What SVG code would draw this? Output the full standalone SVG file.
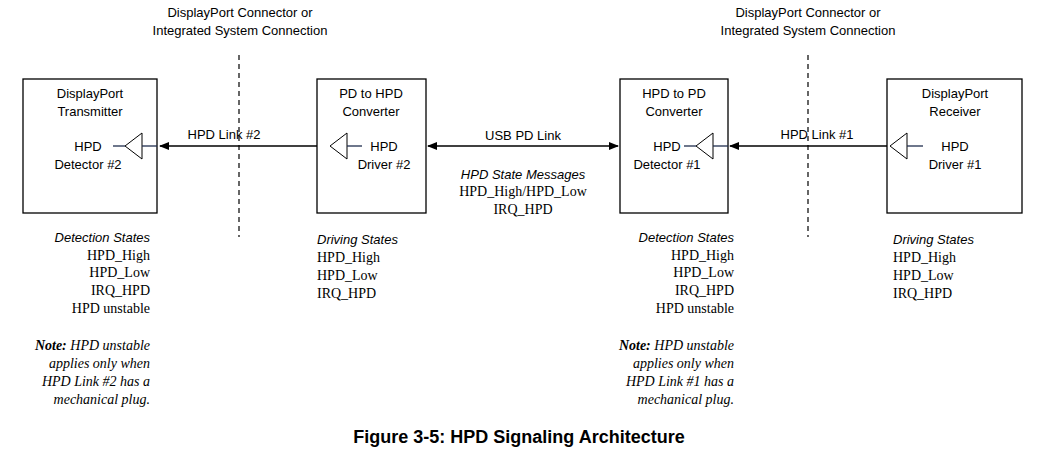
<svg xmlns="http://www.w3.org/2000/svg" width="1038" height="451" viewBox="0 0 1038 451">
<style>
.box{fill:#fff;stroke:#000;stroke-width:1.3}
.s{font-family:"Liberation Sans",Arial,sans-serif;font-size:13px;fill:#000}
.si{font-family:"Liberation Sans",Arial,sans-serif;font-size:13px;font-style:italic;fill:#000}
.t{font-family:"Liberation Serif","Times New Roman",serif;font-size:14px;fill:#000}
.ti{font-family:"Liberation Serif","Times New Roman",serif;font-size:14px;font-style:italic;fill:#000}
.tri{fill:#fff;stroke:#000;stroke-width:1}
.ln{stroke:#000;stroke-width:1.3;fill:none}
.lead{stroke:#1f2d4e;stroke-width:1.3}
.dash{stroke:#000;stroke-width:1.2;stroke-dasharray:5,4}
.m{text-anchor:middle}.e{text-anchor:end}
</style>
<defs>
<marker id="ah" markerWidth="10" markerHeight="8" refX="9" refY="4" orient="auto-start-reverse" markerUnits="userSpaceOnUse">
<path d="M0,0 L10,4 L0,8 z" fill="#000"/>
</marker>
</defs>
<g id="headers">
<text class="s m" x="240" y="17">DisplayPort Connector or</text>
<text class="s m" x="240" y="35">Integrated System Connection</text>
<text class="s m" x="808" y="17">DisplayPort Connector or</text>
<text class="s m" x="808" y="35">Integrated System Connection</text>
</g>
<g id="connectors">
<line class="dash" x1="239" y1="55" x2="239" y2="237"/>
<line class="dash" x1="808" y1="55" x2="808" y2="237"/>
<line class="ln" x1="330" y1="146" x2="160" y2="146" marker-end="url(#ah)"/>
<line class="ln" x1="428" y1="146" x2="618" y2="146" marker-start="url(#ah)" marker-end="url(#ah)"/>
<line class="ln" x1="890" y1="146" x2="730" y2="146" marker-end="url(#ah)"/>
<text class="s m" x="224" y="139">HPD Link #2</text>
<text class="s m" x="523" y="140">USB PD Link</text>
<text class="s m" x="817" y="139">HPD Link #1</text>
<text class="si m" x="523" y="179">HPD State Messages</text>
<text class="t m" x="523" y="196">HPD_High/HPD_Low</text>
<text class="t m" x="523" y="214">IRQ_HPD</text>
</g>
<g id="tx">
<rect class="box" x="23" y="79" width="134" height="134"/>
<text class="s m" x="90" y="98">DisplayPort</text>
<text class="s m" x="90" y="116">Transmitter</text>
<text class="s m" x="88" y="151">HPD</text>
<text class="s m" x="88" y="169">Detector #2</text>
<line class="lead" x1="113" y1="146" x2="125" y2="146"/>
<polygon class="tri" points="125,146 142,133 142,159"/>
<line class="lead" x1="142" y1="146" x2="157" y2="146"/>
</g>
<g id="pd2hpd">
<rect class="box" x="317" y="79" width="109" height="134"/>
<text class="s m" x="371" y="98">PD to HPD</text>
<text class="s m" x="371" y="116">Converter</text>
<text class="s m" x="384" y="151">HPD</text>
<text class="s m" x="384" y="169">Driver #2</text>
<polygon class="tri" points="330,146 347,133 347,159"/>
<line class="lead" x1="347" y1="146" x2="362" y2="146"/>
</g>
<g id="hpd2pd">
<rect class="box" x="620" y="79" width="108" height="134"/>
<text class="s m" x="674" y="98">HPD to PD</text>
<text class="s m" x="674" y="116">Converter</text>
<text class="s m" x="667" y="151">HPD</text>
<text class="s m" x="667" y="169">Detector #1</text>
<line class="lead" x1="684" y1="146" x2="696" y2="146"/>
<polygon class="tri" points="696,146 713,133 713,159"/>
<line class="lead" x1="713" y1="146" x2="728" y2="146"/>
</g>
<g id="rx">
<rect class="box" x="887" y="79" width="135" height="134"/>
<text class="s m" x="955" y="98">DisplayPort</text>
<text class="s m" x="955" y="116">Receiver</text>
<text class="s m" x="955" y="151">HPD</text>
<text class="s m" x="955" y="169">Driver #1</text>
<polygon class="tri" points="890,146 907,133 907,159"/>
<line class="lead" x1="907" y1="146" x2="923" y2="146"/>
</g>
<g id="states-left">
<text class="si e" x="150" y="242">Detection States</text>
<text class="t e" x="150" y="260">HPD_High</text>
<text class="t e" x="150" y="277">HPD_Low</text>
<text class="t e" x="150" y="295">IRQ_HPD</text>
<text class="t e" x="150" y="313">HPD unstable</text>
<text class="ti e" x="150" y="350"><tspan font-weight="bold">Note:</tspan> HPD unstable</text>
<text class="ti e" x="150" y="368">applies only when</text>
<text class="ti e" x="150" y="386">HPD Link #2 has a</text>
<text class="ti e" x="150" y="404">mechanical plug.</text>
</g>
<g id="states-mid">
<text class="si" x="317" y="244">Driving States</text>
<text class="t" x="317" y="262">HPD_High</text>
<text class="t" x="317" y="280">HPD_Low</text>
<text class="t" x="317" y="298">IRQ_HPD</text>
</g>
<g id="states-right">
<text class="si e" x="734" y="242">Detection States</text>
<text class="t e" x="734" y="260">HPD_High</text>
<text class="t e" x="734" y="277">HPD_Low</text>
<text class="t e" x="734" y="295">IRQ_HPD</text>
<text class="t e" x="734" y="313">HPD unstable</text>
<text class="ti e" x="734" y="350"><tspan font-weight="bold">Note:</tspan> HPD unstable</text>
<text class="ti e" x="734" y="368">applies only when</text>
<text class="ti e" x="734" y="386">HPD Link #1 has a</text>
<text class="ti e" x="734" y="404">mechanical plug.</text>
</g>
<g id="states-rx">
<text class="si" x="893" y="244">Driving States</text>
<text class="t" x="893" y="262">HPD_High</text>
<text class="t" x="893" y="280">HPD_Low</text>
<text class="t" x="893" y="298">IRQ_HPD</text>
</g>
<text x="519" y="443" text-anchor="middle" font-family="Liberation Sans,Arial,sans-serif" font-size="18" font-weight="bold">Figure 3-5: HPD Signaling Architecture</text>
</svg>
